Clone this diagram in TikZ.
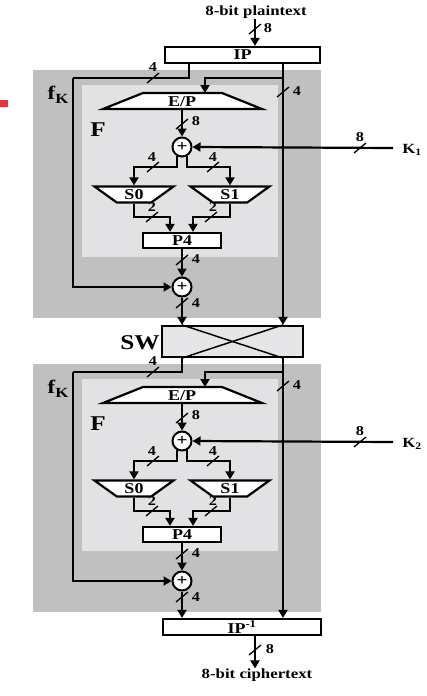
\documentclass[tikz,border=0pt]{standalone}
\usepackage{fontspec}
\setmainfont{Liberation Serif}[FakeStretch=1.2,BoldFeatures={FakeStretch=1.2}]
\usetikzlibrary{arrows.meta,shapes.geometric}
\definecolor{outergray}{RGB}{192,192,192}
\definecolor{innergray}{RGB}{226,226,228}
\definecolor{swgray}{RGB}{230,230,232}
\definecolor{markred}{RGB}{232,52,60}
\begin{document}
\begin{tikzpicture}[x=1pt,y=-1pt,
  wire/.style={line width=2.2pt},
  arr/.style={line width=2.2pt,-{Triangle[length=8pt,width=9pt]}},
  shapeline/.style={draw,line width=2.2pt,fill=white},
  boxlabel/.style={inner sep=0pt,font=\bfseries\fontsize{15}{15}\selectfont},
  blk/.style={draw,line width=2.2pt,fill=white,inner sep=0pt,font=\bfseries\fontsize{15}{15}\selectfont},
  sbox/.style={blk,trapezium,trapezium stretches=true,trapezium left angle=140.6,trapezium right angle=140.6,minimum width=79pt,minimum height=16pt},
  xor/.style={circle,draw,line width=2pt,fill=white,minimum size=19pt,inner sep=0pt,font=\bfseries\fontsize{16}{16}\selectfont},
  lab/.style={font=\bfseries\fontsize{13.5}{13.5}\selectfont,inner sep=0pt},
  title/.style={font=\bfseries\fontsize{14}{14}\selectfont,inner sep=0pt},
  slashmark/.pic={\draw[line width=1.3pt] (-6,5) -- (6,-5);}
]
\useasboundingbox (0,0) rectangle (427,696);
\fill[markred] (0,100) rectangle (8,107);

\node[title] (pt) at (256,12) {8-bit plaintext};
\node[blk,minimum width=155pt,minimum height=16pt] (ip) at (242.5,55) {IP};
\node[blk,fill=swgray,minimum width=141pt,minimum height=31pt] (sw) at (232.5,341.5) {};
\node[blk,minimum width=158pt,minimum height=16pt] (ipi) at (242,627) {IP\textsuperscript{-1}};
\node[title] (ct) at (257,675) {8-bit ciphertext};
\node[font=\bfseries\fontsize{21}{21}\selectfont,inner sep=0pt] (swl) at (140,343) {SW};
\coordinate (ar) at (255,0);
\coordinate (cl) at (182,0);
\coordinate (cr) at (283,0);

\draw[arr] (pt.south -| ar) -- (ip.north -| ar);
\pic at (255,29) {slashmark};
\node[lab] (l0) at (268,28) {8};
\draw[arr] (ipi.south -| ar) -- (ct.north -| ar);
\pic at (255,650) {slashmark};
\node[lab] (l00) at (270,649) {8};
\draw[line width=1.5pt] (sw.north -| cl) -- (sw.south -| cr);
\draw[line width=1.5pt] (sw.north -| cr) -- (sw.south -| cl);

\foreach \r/\dy/\lx/\src/\dst in {1/0/189/ip/sw, 2/294/182/sw/ipi} {
\begin{scope}[shift={(0,\dy)}]
  \fill[outergray] (33,70) rectangle (321,318);
  \fill[innergray] (82,85) rectangle (278,257);
  \node[font=\bfseries\fontsize{19}{19}\selectfont,inner sep=0pt] (fk\r) at (58,95) {f\raisebox{-4pt}{\fontsize{14}{14}\selectfont K}};
  \node[font=\bfseries\fontsize{21}{21}\selectfont,inner sep=0pt] (F\r) at (98,130) {F};
  \path[shapeline] (143,93) -- (222,93) -- (262,109) -- (103,109) -- cycle;
  \node[boxlabel] (ep\r) at (182,101.5) {E/P};
  \coordinate (ept\r) at (182,93);
  \coordinate (epb\r) at (182,109);
  \node[xor] (xa\r) at (182,147) {+};
  \node[sbox] (sa\r) at (134,194.5) {S0};
  \node[sbox] (sb\r) at (230,194.5) {S1};
  \node[blk,minimum width=78pt,minimum height=15pt] (p4\r) at (182,240.5) {P4};
  \node[xor] (xb\r) at (182,287) {+};
  \node[font=\bfseries\fontsize{14}{14}\selectfont,inner sep=0pt] (kl\r) at (412,150) {K\textsubscript{\r}};
  \coordinate (k\r) at (393,148);
  \coordinate (lt\r) at (\lx,78);
  \coordinate (ll\r) at (73,78);
  \coordinate (rt\r) at (283,78);
  \coordinate (eb\r) at (205,78);
  \coordinate (hy\r) at (0,167);
  \coordinate (pa\r) at (170,217);
  \coordinate (pb\r) at (193,217);

  \draw[wire] (\src.south -| lt\r) -- (lt\r) -- (ll\r);
  \draw[arr] (ll\r) |- (xb\r.west);
  \draw[arr] (\src.south -| rt\r) -- (\dst.north -| rt\r);
  \draw[arr] (rt\r) -- (eb\r) -- (eb\r |- ept\r);
  \draw[arr] (epb\r) -- (xa\r.north);
  \draw[arr] (k\r) -- (xa\r.east);
  \draw[arr] (xa\r.240) -- (xa\r.240 |- hy\r) -| (sa\r.north);
  \draw[arr] (xa\r.300) -- (xa\r.300 |- hy\r) -| (sb\r.north);
  \draw[arr] (sa\r.south) |- (pa\r) -- (pa\r |- p4\r.north);
  \draw[arr] (sb\r.south) |- (pb\r) -- (pb\r |- p4\r.north);
  \draw[arr] (p4\r.south) -- (xb\r.north);
  \draw[arr] (xb\r.south) -- (\dst.north -| xb\r.south);

  \pic at (153,78) {slashmark};  \node[lab] (a\r) at (153,67) {4};
  \pic at (283,92) {slashmark};  \node[lab] (b\r) at (297,91) {4};
  \pic at (182,124) {slashmark}; \node[lab] (c\r) at (196,121) {8};
  \pic at (360,148) {slashmark}; \node[lab] (d\r) at (360,137) {8};
  \pic at (153,167) {slashmark}; \node[lab] (e\r) at (152,157) {4};
  \pic at (213,167) {slashmark}; \node[lab] (f\r) at (213,157) {4};
  \pic at (152,217) {slashmark}; \node[lab] (g\r) at (152,207) {2};
  \pic at (211,217) {slashmark}; \node[lab] (h\r) at (213,207) {2};
  \pic at (182,260) {slashmark}; \node[lab] (i\r) at (196,259) {4};
  \pic at (182,303) {slashmark}; \node[lab] (j\r) at (196,303) {4};
\end{scope}
}
\end{tikzpicture}
\end{document}
